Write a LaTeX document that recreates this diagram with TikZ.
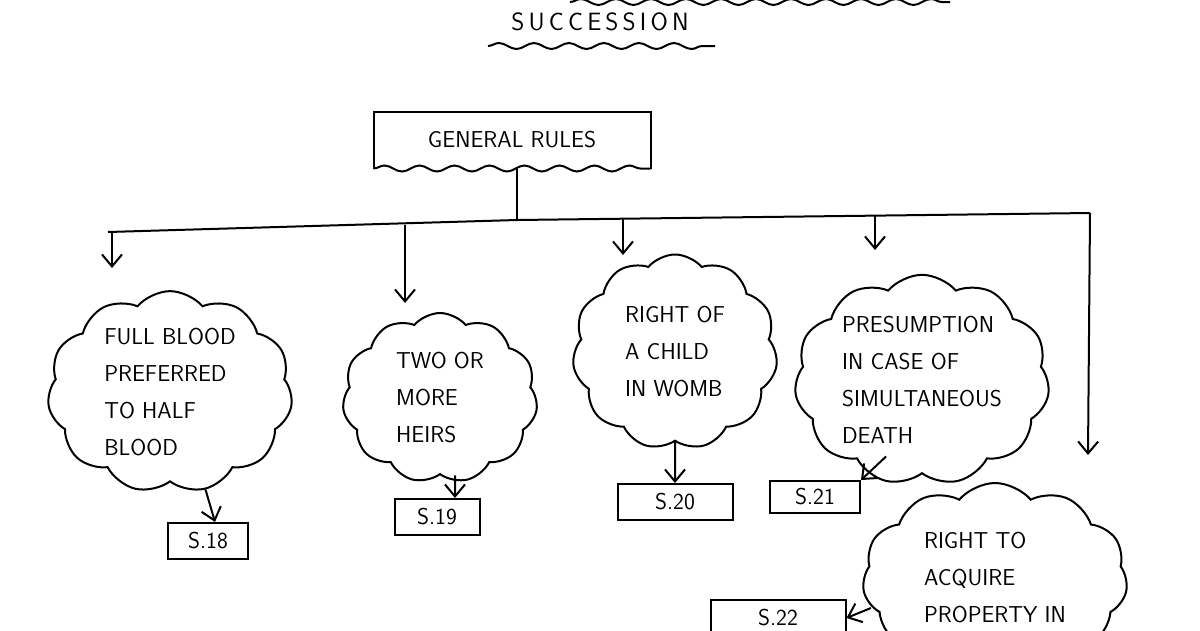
\documentclass[tikz,border=0pt]{standalone}
\usetikzlibrary{shapes.symbols,decorations.pathmorphing,arrows.meta}
\begin{document}
\begin{tikzpicture}[x=1pt,y=-1pt,
  every path/.style={line width=2pt},
  bigf/.style={font=\fontsize{23}{37}\selectfont\sffamily},
  txt/.style={bigf, align=left},
  cl/.style={cloud, draw, cloud puffs=11, cloud puff arc=100, aspect=1.2, inner sep=0pt, bigf, align=left},
  sbox/.style={draw, bigf, minimum height=36pt, minimum width=80pt, inner sep=4pt},
  arr/.style={-{Straight Barb[length=12pt,width=20pt]}},
  wave/.style={decorate, decoration={snake, amplitude=3pt, segment length=35pt}}]
\useasboundingbox (0,0) rectangle (1200,630);
\draw[wave] (570,2) -- (950,2);
\node[bigf, font=\fontsize{25}{30}\selectfont\sffamily] (title) at (600,22) {S\,U\,C\,C\,E\,S\,S\,I\,O\,N};
\draw[wave] (488,46) -- (715,46);
\node[bigf, minimum width=275pt, minimum height=55pt] (gr) at (512,140) {GENERAL RULES};
\draw (gr.south west) -- (gr.north west) -- (gr.north east) -- (gr.south east);
\draw[wave] (gr.south west) -- (gr.south east);
\coordinate (j) at (517,220);
\draw (gr.south -| j) -- (j);
\coordinate (h1) at (108,232);
\coordinate (h5) at (1090,213);
\draw (h1) -- (j) -- (h5);
\node[cl, minimum width=245pt, minimum height=195pt] (c1) at (170,392) {FULL BLOOD\\PREFERRED\\TO HALF\\BLOOD};
\node[cl, minimum width=195pt, minimum height=170pt] (c2) at (440,398) {TWO OR\\MORE\\HEIRS};
\node[cl, minimum width=205pt, minimum height=195pt] (c3) at (675,352) {RIGHT OF\\A CHILD\\IN WOMB};
\node[cl, minimum width=255pt, minimum height=200pt] (c4) at (922,380) {PRESUMPTION\\IN CASE OF\\SIMULTANEOUS\\DEATH};
\node[cl, minimum width=265pt, minimum height=190pt] (c5) at (995,578) {RIGHT TO\\ACQUIRE\\PROPERTY IN};
\coordinate (t1) at (112,231); \coordinate (t2) at (405,225);
\coordinate (t3) at (623,219); \coordinate (t4) at (875,216);
\draw[arr] (t1) -- (112,268);
\draw[arr] (t2) -- (405,303);
\draw[arr] (t3) -- (623,255);
\draw[arr] (t4) -- (875,250);
\draw[arr] (h5) -- (1088,455);
\node[sbox] (s18) at (208,541) {S.18};
\node[sbox, minimum width=85pt] (s19) at (437,517) {S.19};
\node[sbox, minimum width=115pt] (s20) at (675,502) {S.20};
\node[sbox, minimum width=90pt, minimum height=32pt] (s21) at (815,497) {S.21};
\node[sbox, minimum width=135pt] (s22) at (778,618) {S.22};
\draw[arr] (c1.-70) -- (s18.north -| 215,0);
\draw[arr] (c2.south) ++(15,0) -- (s19.north -| 455,0);
\draw[arr] (c3.south) -- (s20.north);
\draw[arr] (c4.-115) ++(10,-22) -- (s21.north east);
\draw[arr] (c5.west) ++(8,30) -- (s22.east);
\end{tikzpicture}
\end{document}
